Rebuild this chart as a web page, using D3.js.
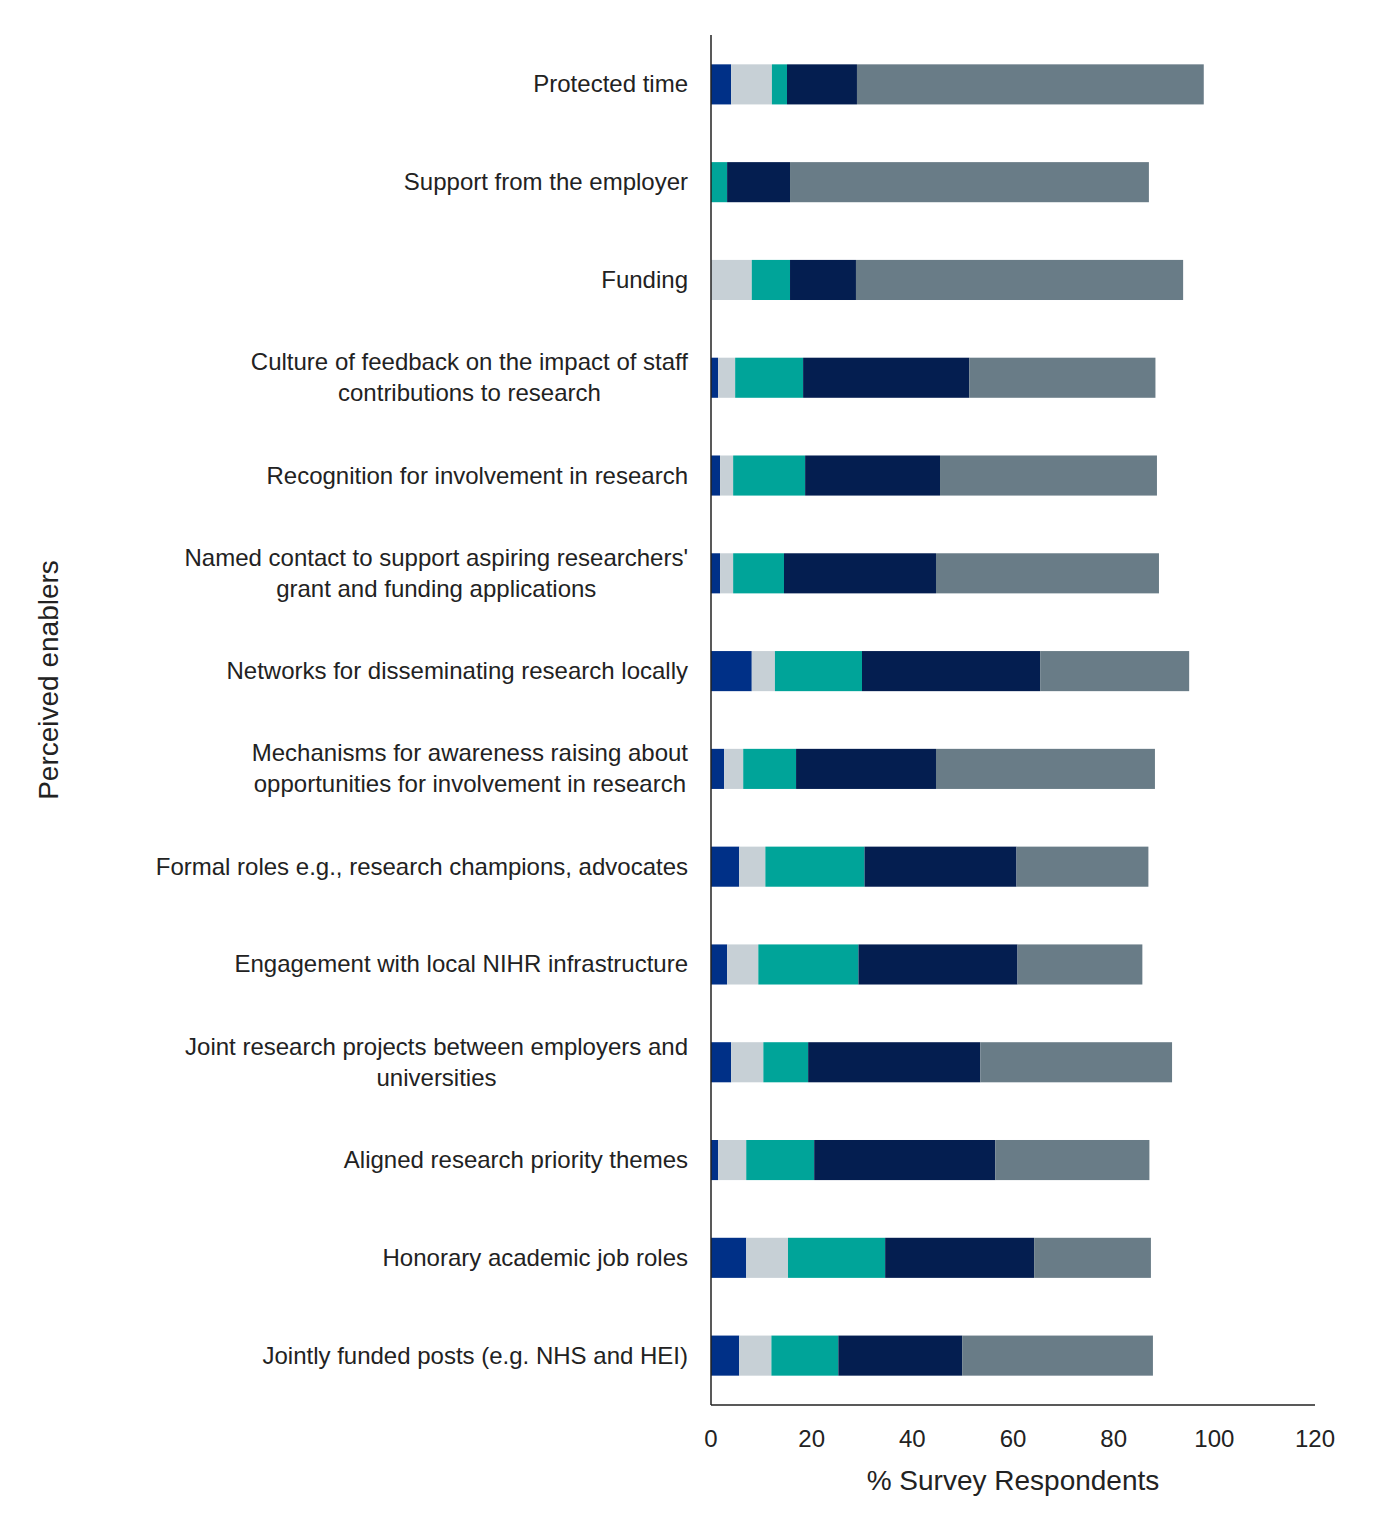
<!DOCTYPE html>
<html><head><meta charset="utf-8">
<script src="https://cdn.jsdelivr.net/npm/d3@7"></script>
<style>body{margin:0;background:#fff}text{font-family:"Liberation Sans",Arial,sans-serif;fill:#222}</style>
</head><body><svg id="c" width="1373" height="1536"></svg>
<script>
const categories = [
 ["Protected time"],
 ["Support from the employer"],
 ["Funding"],
 ["Culture of feedback on the impact of staff","contributions to research"],
 ["Recognition for involvement in research"],
 ["Named contact to  support aspiring researchers'","grant and funding applications"],
 ["Networks for disseminating research locally"],
 ["Mechanisms for awareness raising about","opportunities for involvement in research"],
 ["Formal roles e.g., research champions, advocates"],
 ["Engagement with local NIHR infrastructure"],
 ["Joint research projects between employers and","universities"],
 ["Aligned research priority themes"],
 ["Honorary academic job roles"],
 ["Jointly funded posts (e.g. NHS and HEI)"]
];
const s1 = [4.0,0,0,1.4,1.8,1.8,8.1,2.6,5.6,3.2,4.0,1.4,7.0,5.6];
const s2 = [8.1,0,8.1,3.4,2.6,2.6,4.6,3.8,5.2,6.2,6.4,5.6,8.3,6.4];
const s3 = [3.0,3.2,7.6,13.5,14.3,10.1,17.3,10.5,19.7,19.9,8.9,13.5,19.3,13.3];
const s4 = [13.9,12.5,13.1,33.0,26.8,30.2,35.4,27.8,30.2,31.6,34.2,36.0,29.6,24.6];
const s5 = [68.9,71.3,65.0,37.0,43.1,44.3,29.6,43.5,26.2,24.8,38.1,30.6,23.2,37.9];
const xTicks = [0,20,40,60,80,100,120];
const colors = ["#003087","#c7d0d6","#00a499","#041e50","#697c87"];

const svg = d3.select("#c");
const x = d3.scaleLinear().domain([0,120]).range([711,1315]);
const y = d3.scaleBand().domain(d3.range(categories.length)).range([35,1405]).paddingInner(0.59).paddingOuter(0.3);
const series = [s1,s2,s3,s4,s5];
const rows = categories.map((c,i)=>{const o={i};series.forEach((s,k)=>o["k"+k]=s[i]);return o;});
const stack = d3.stack().keys(["k0","k1","k2","k3","k4"])(rows);
stack.forEach((layer,k)=>{
  svg.append("g").selectAll("rect").data(layer).join("rect")
    .attr("x",d=>x(d[0])).attr("width",d=>x(d[1])-x(d[0]))
    .attr("y",d=>y(d.data.i)).attr("height",y.bandwidth())
    .attr("fill",colors[k]);
});
svg.append("line").attr("x1",711).attr("x2",711).attr("y1",35).attr("y2",1405).attr("stroke","#222").attr("stroke-width",1.5);
svg.append("line").attr("x1",711).attr("x2",1315).attr("y1",1405).attr("y2",1405).attr("stroke","#222").attr("stroke-width",1.5);
svg.append("g").selectAll("text").data(xTicks).join("text")
  .attr("x",d=>x(d)).attr("y",1447).attr("text-anchor","middle").attr("font-size",24).text(d=>d);
categories.forEach((lines,i)=>{
  const cy = y(i)+y.bandwidth()/2;
  const t = svg.append("text").attr("font-size",24).attr("text-anchor","middle");
  const n = lines.length;
  if(n===1){ t.attr("text-anchor","end"); }
  lines.forEach((l,j)=>{
    t.append("tspan").attr("x", n===1?688:(j===0?688:null)).attr("y",cy+8+(j-(n-1)/2)*31).text(l);
  });
  if(n>1){
    // center second line under first line
    const tspans=t.selectAll("tspan").nodes();
    const w0=tspans[0].getComputedTextLength();
    const cx=688-w0/2;
    tspans.forEach(ts=>ts.setAttribute("x",cx));
  }
});
svg.append("text").attr("x",1013).attr("y",1490).attr("text-anchor","middle").attr("font-size",28).text("% Survey Respondents");
svg.append("text").attr("transform","translate(58,680) rotate(-90)").attr("text-anchor","middle").attr("font-size",28).text("Perceived enablers");
</script></body></html>
